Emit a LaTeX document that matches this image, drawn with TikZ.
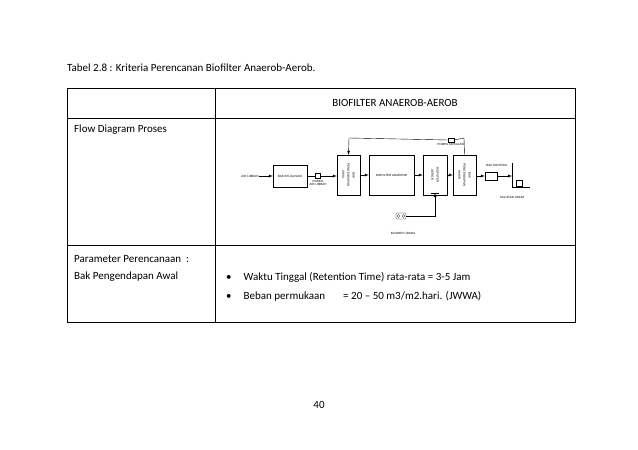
\documentclass[tikz,border=0pt]{standalone}
\usepackage{fontspec}
\setmainfont{Carlito}
\newfontfamily\diafont{Liberation Sans}
\usepackage{xcolor}
\usetikzlibrary{positioning}
\tikzset{
  unit/.style={draw,line width=0.4pt,fill=white,font=\diafont\fontsize{3}{3.4}\selectfont,align=center,inner sep=0.5pt},
  tiny/.style={font=\diafont\fontsize{3}{3.4}\selectfont,align=center,inner sep=0.5pt},
  flow/.style={line width=0.4pt,-latex},
  body/.style={font=\fontsize{11}{13}\selectfont,anchor=west,inner sep=0pt}
}
\begin{document}
\begin{tikzpicture}[x=1pt,y=-1pt]
        \useasboundingbox (0,0) rectangle (638,450);

        % table
        \draw [line width=0.5pt] (67,88) rectangle (575,322);
        \draw [line width=0.5pt] (67,118) -- (575,118);
        \draw [line width=0.5pt] (67,245) -- (575,245);
        \draw [line width=0.5pt] (215,88) -- (215,322);

        \node [body] (title) at (67,68) {Tabel 2.8 : Kriteria Perencanan Biofilter Anaerob-Aerob.};
        \node [body,anchor=center] (head) at (395,103) {BIOFILTER ANAEROB-AEROB};
        \node [body] (rowflow) at (74,130) {Flow Diagram Proses};
        \node [body] (rowpar) at (74,259) {Parameter Perencanaan~~:};
        \node [body] (rowbak) at (74,277) {Bak Pengendapan Awal};
        \node [body] (item1) at (226,277) {\textbullet\hspace{12pt}Waktu Tinggal (Reten{}tion Time) rata-rata = 3-5 Jam};
        \node [body] (item2) at (226,296) {\textbullet\hspace{12pt}Beban permukaan\hspace{18pt}= 20 -- 50 m3/m2.hari. (JWWA)};
        \node [body,anchor=center] (page) at (319,405) {40};

        % flow diagram
        \node [tiny] (inlet) at (250,176) {AIR LIMBAH};
        \node [unit,minimum width=34pt,minimum height=22pt] (ekual) at (290,176) {BAK EKUALISASI};
        \node [draw,line width=0.3pt,minimum width=5pt,minimum height=5pt,inner sep=0pt] (pump) at (318,176) {};
        \node [tiny,below=1pt of pump] (pumplbl) {POMPA\\AIR LIMBAH};
        \node [unit,minimum width=23pt,minimum height=40pt] (awal) at (348.5,175) {\rotatebox{-90}{\shortstack{BAK\\PENGENDAPAN\\AWAL}}};
        \node [unit,minimum width=45pt,minimum height=40pt] (anaerob) at (391.5,175) {BIOFILTER ANAEROB};
        \node [unit,minimum width=24pt,minimum height=40pt] (aerob) at (435,175) {\rotatebox{-90}{\shortstack{BIOFILTER\\AEROB}}};
        \node [unit,minimum width=23pt,minimum height=40pt] (akhir) at (464.5,175) {\rotatebox{-90}{\shortstack{BAK\\PENGENDAPAN\\AKHIR}}};
        \node [draw,line width=0.4pt,minimum width=12pt,minimum height=8pt,inner sep=0pt] (kontrol) at (491,176) {};
        \node [tiny] (kontrollbl) at (497,165) {BAK KONTROL};
        \coordinate (sewer) at (512,176);
        \node [tiny] (sewerlbl) at (512,197) {SALURAN UMUM};
        \node [draw,line width=0.3pt,minimum width=6pt,minimum height=4pt,inner sep=0pt] (sirk) at (451,140) {};
        \node [tiny,below=0.5pt of sirk] (sirklbl) {POMPA SIRKULASI};
        \node [draw,line width=0.3pt,rounded corners=1pt,minimum width=10pt,minimum height=6pt,inner sep=0pt] (blower) at (401,216) {};
        \node [tiny] (blowerlbl) at (403,233) {BLOWER UDARA};
        \coordinate (diffuser) at (435,193);

        \draw [flow] (inlet) -- (ekual);
        \draw [line width=0.4pt] (ekual) -- (pump);
        \draw [flow] (pump) -- (pump -| awal.west);
        \draw [flow] (awal) -- (anaerob);
        \draw [flow] (anaerob) -- (aerob);
        \draw [flow] (aerob) -- (akhir);
        \draw [flow] (akhir.east |- kontrol) -- (kontrol);
        \draw [flow] (kontrol) -- (sewer);
        \draw [line width=0.4pt] (512,163) -- (512,187) -- (530,187);
        \draw [line width=0.3pt] (516,180) rectangle (522,186);
        \draw [line width=0.4pt] (akhir.north) -- (464,138) -- (sirk.east);
        \draw [flow] (sirk.west) -- (349,138) -- (awal.north);
        \draw [line width=0.8pt] (431,193) -- (439,193);
        \draw [flow] (blower.east) -- (435,216) -- (diffuser);
        \draw [line width=0.3pt] (398.5,216) circle (1.5pt) (403.5,216) circle (1.5pt);
\end{tikzpicture}
\end{document}
